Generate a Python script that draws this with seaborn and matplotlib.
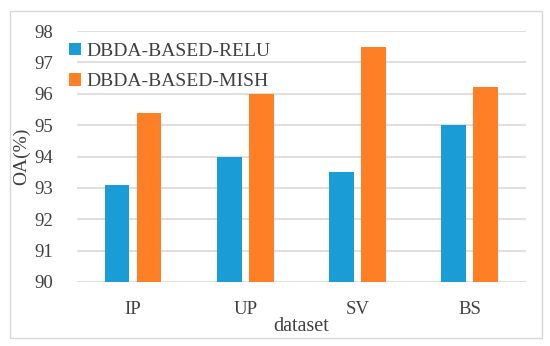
import matplotlib
matplotlib.use("Agg")
import matplotlib.pyplot as plt
import seaborn as sns
import pandas as pd
from matplotlib.patches import Rectangle

categories = ["IP", "UP", "SV", "BS"]
relu = [93.1, 94.0, 93.5, 95.0]
mish = [95.38, 96.0, 97.5, 96.22]
series_names = ["DBDA-BASED-RELU", "DBDA-BASED-MISH"]
colors = ["#1A9CD7", "#FF7F27"]

df = pd.DataFrame({
    "dataset": categories * 2,
    "OA": relu + mish,
    "series": [series_names[0]] * 4 + [series_names[1]] * 4,
})

sns.set_theme(style="white")
plt.rcParams['font.family'] = ['Liberation Serif', 'DejaVu Serif']

fig = plt.figure(figsize=(5.5, 3.46), dpi=100)
ax = fig.add_axes([0.14, 0.185, 0.816, 0.725])

sns.barplot(data=df, x="dataset", y="OA", hue="series", palette=colors,
            width=0.57, gap=0.23, ax=ax, saturation=1, linewidth=0)

ax.set_ylim(90, 98)
ax.set_yticks(range(90, 99))
ax.set_xlim(-0.5, 3.5)
ax.yaxis.grid(True, color="#D9D9D9", linewidth=1.2)
ax.set_axisbelow(True)
for s in ax.spines.values():
    s.set_visible(False)
ax.tick_params(axis="both", length=0, labelsize=13.5, colors="#404040")
ax.tick_params(axis="y", pad=17)
ax.tick_params(axis="x", pad=14)
ax.set_ylabel("OA(%)", fontsize=14, color="#404040", labelpad=3)
ax.set_xlabel("dataset", fontsize=14.5, color="#404040", labelpad=-1)

leg = ax.legend(loc="upper left", bbox_to_anchor=(-0.035, 0.985), frameon=False,
                fontsize=14, handlelength=0.6, handleheight=0.6,
                handletextpad=0.3, labelspacing=0.7, borderaxespad=0)
for t in leg.get_texts():
    t.set_color("#404040")

fig.patches.append(Rectangle((10 / 550, 1 - 338 / 346), 532 / 550, 327 / 346,
                             transform=fig.transFigure, fill=False,
                             edgecolor="#D9D9D9", linewidth=1.0))

fig.savefig("out.png", dpi=100)
